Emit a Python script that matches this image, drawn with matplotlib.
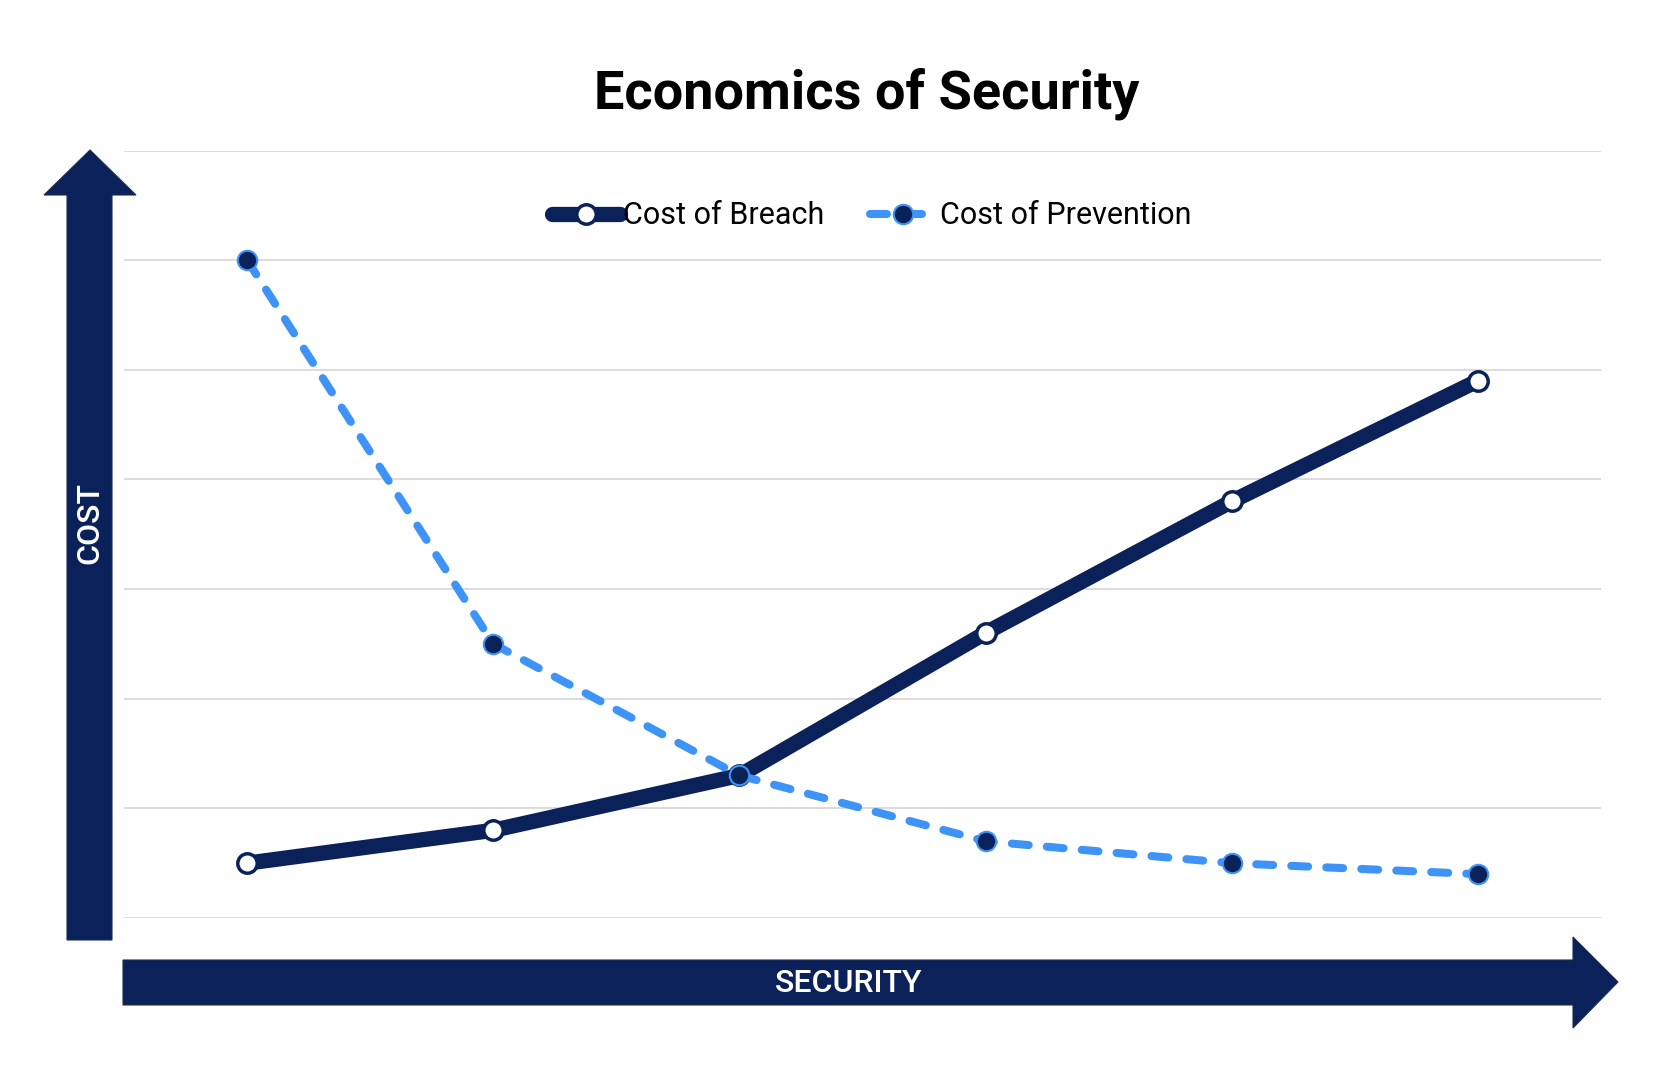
import matplotlib
matplotlib.use("Agg")
import matplotlib.pyplot as plt
from matplotlib.patches import Polygon

plt.rcParams['font.family'] = ['Roboto', 'DejaVu Sans']

# ---- data ----
security_levels = ["1", "2", "3", "4", "5", "6"]
cost_of_breach = [0.5, 0.8, 1.3, 2.6, 3.8, 4.9]
cost_of_prevention = [6.0, 2.5, 1.3, 0.7, 0.5, 0.4]
title = "Economics of Security"
x_label = "SECURITY"
y_label = "COST"

NAVY = "#0a2259"
BLUE = "#3d94f6"
W, H = 1674, 1080

fig = plt.figure(figsize=(W / 100, H / 100), dpi=100)
fig.patch.set_facecolor("white")

def fx(px):
    return px / W

def fy(py):
    return 1 - py / H

ax = fig.add_axes([fx(124), fy(918), fx(1601) - fx(124), fy(150.5) - fy(918)])
x = list(range(len(security_levels)))

ax.plot(x, cost_of_breach, color=NAVY, lw=11, solid_capstyle="round",
        marker="o", ms=14, mfc="white", mec=NAVY, mew=2.5,
        label="Cost of Breach", zorder=3)
ax.plot(x, cost_of_prevention, color=BLUE, lw=5.8, ls=(0, (2.1, 2.25)),
        dash_capstyle="round", marker="o", ms=14, mfc=NAVY, mec=BLUE, mew=1.5,
        label="Cost of Prevention", zorder=4)

ax.set_xlim(-0.5, len(x) - 0.5)
ax.set_ylim(0, 7)
ax.set_yticks(range(0, 8))
ax.yaxis.grid(True, color="#d9d9d9", lw=1.3)
ax.set_axisbelow(True)
ax.tick_params(left=False, bottom=False, labelleft=False, labelbottom=False)
for s in ax.spines.values():
    s.set_visible(False)

leg = ax.legend(loc="center", bbox_to_anchor=(fx(872), fy(216)),
                bbox_transform=fig.transFigure, ncol=2, frameon=False,
                fontsize=22, handlelength=2.2, handletextpad=0.1,
                columnspacing=1.5)

fig.text(fx(867), fy(94), title, ha="center", va="center",
         fontsize=39, fontweight="bold", color="black")

# vertical arrow (COST)
vert = [(67, 940), (112, 940), (112, 195), (136, 195), (90, 150),
        (44, 195), (67, 195)]
fig.patches.append(Polygon([(fx(a), fy(b)) for a, b in vert], closed=True,
                           transform=fig.transFigure, facecolor=NAVY,
                           edgecolor="#1c2b4f", lw=0.8))
# horizontal arrow (SECURITY)
horiz = [(123, 960), (1573, 960), (1573, 937), (1618, 982), (1573, 1028),
         (1573, 1005), (123, 1005)]
fig.patches.append(Polygon([(fx(a), fy(b)) for a, b in horiz], closed=True,
                           transform=fig.transFigure, facecolor=NAVY,
                           edgecolor="#1c2b4f", lw=0.8))

fig.text(fx(849), fy(983), x_label, ha="center", va="center",
         fontsize=23, color="white", fontweight="medium")
fig.text(fx(90), fy(523), y_label, ha="center", va="center", rotation=90,
         fontsize=23, color="white", fontweight="medium")

fig.savefig("out.png", dpi=100, facecolor="white")
